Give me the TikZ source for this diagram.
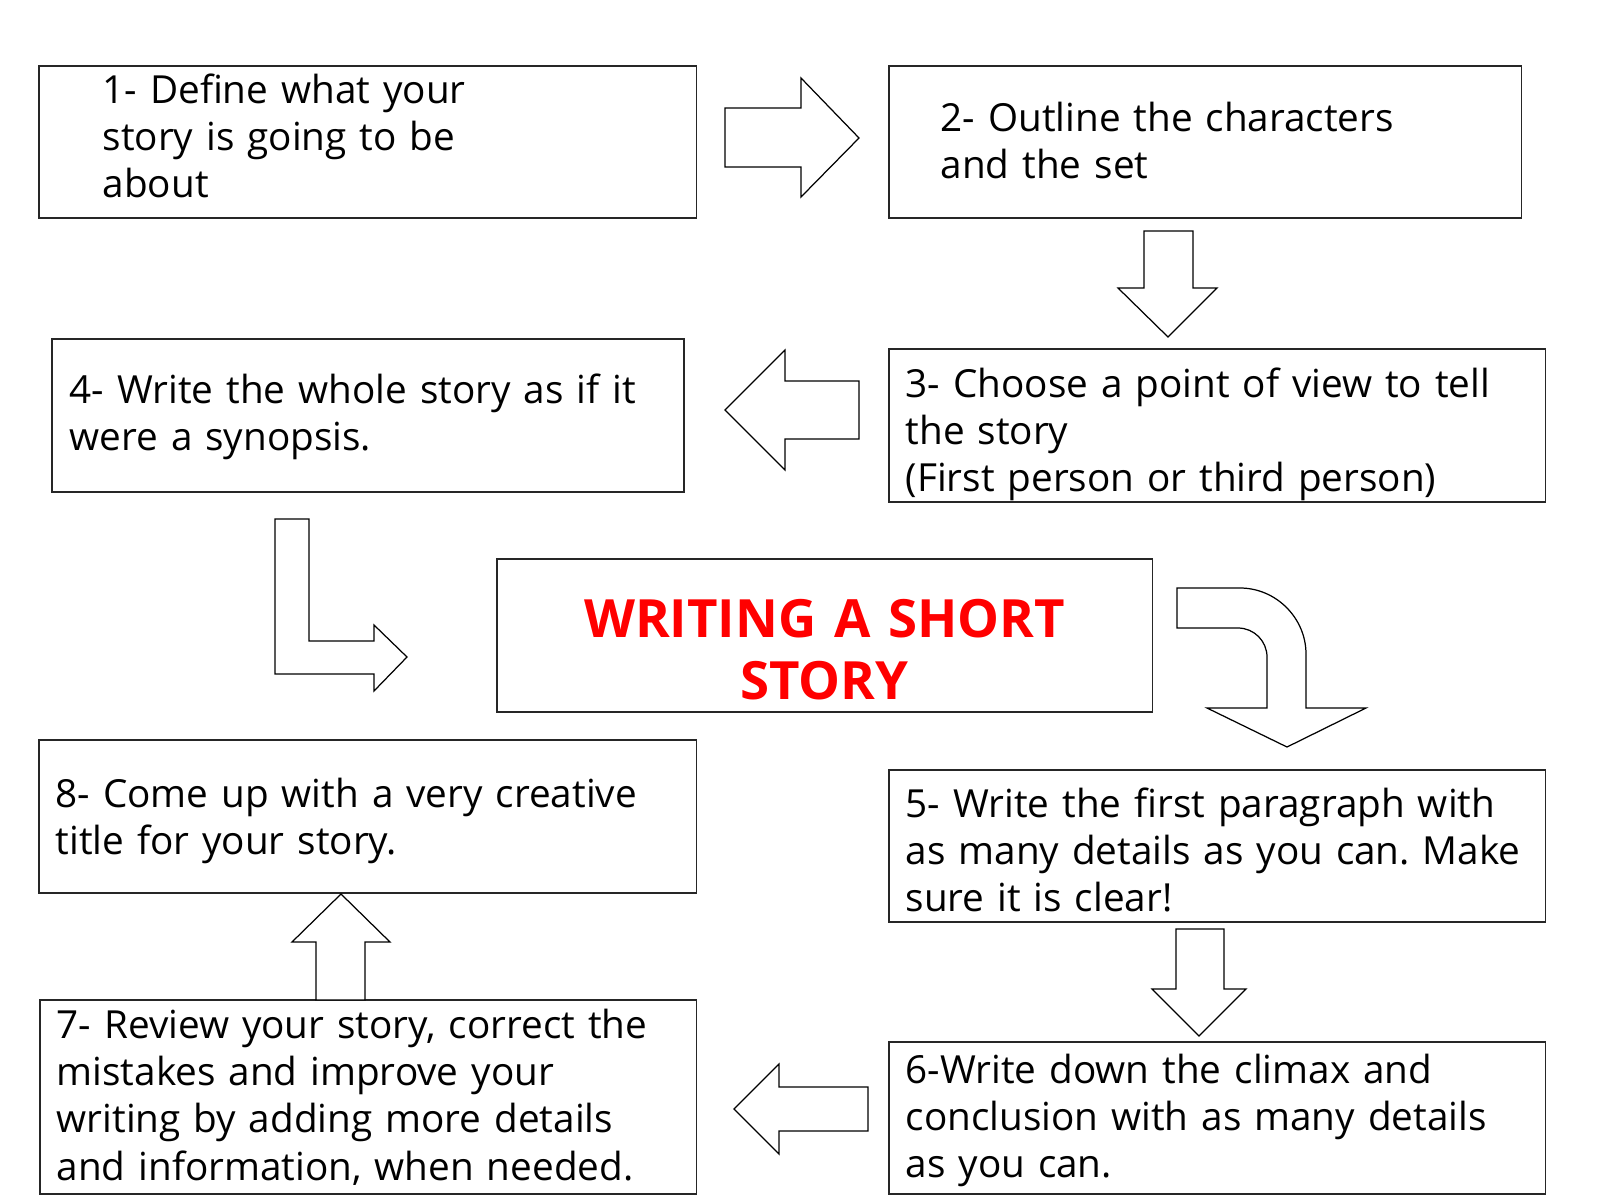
\documentclass[tikz,border=0pt]{standalone}
\usepackage{fontspec}
\setmainfont{Open Sans}
\frenchspacing

\tikzset{
  box/.style={draw=black!85, line width=0.5pt, inner sep=0pt, outer sep=0pt, anchor=north west},
  txt/.style={anchor=base west, inner sep=0pt, align=left, text width=7.5cm,
    font=\fontsize{11pt}{13.5pt}\selectfont},
  titletxt/.style={anchor=base, inner sep=0pt, align=center, text width=6.5cm, text=red,
    font=\fontsize{15pt}{17.9pt}\selectfont\bfseries},
  blockarrow/.style={draw=black, line width=0.35pt, fill=white, line join=miter},
}

\begin{document}
\begin{tikzpicture}[x=0.01cm,y=-0.01cm]
  \useasboundingbox (0,0) rectangle (1600,1200);
  % boxes
  \node[box, minimum width=6.57cm, minimum height=1.52cm] (b1) at (39,66) {};
  \node[box, minimum width=6.32cm, minimum height=1.52cm] (b2) at (889,66) {};
  \node[box, minimum width=6.56cm, minimum height=1.53cm] (b3) at (889,349) {};
  \node[box, minimum width=6.32cm, minimum height=1.53cm] (b4) at (52,339) {};
  \node[box, minimum width=6.55cm, minimum height=1.53cm] (title) at (497,559) {};
  \node[box, minimum width=6.56cm, minimum height=1.52cm] (b5) at (889,770) {};
  \node[box, minimum width=6.56cm, minimum height=1.52cm] (b6) at (889,1042) {};
  \node[box, minimum width=6.56cm, minimum height=1.94cm] (b7) at (40,1000) {};
  \node[box, minimum width=6.57cm, minimum height=1.53cm] (b8) at (39,740) {};

  % texts
  \node[txt] (t1) at (102,103) {1- Define what your\\story is going to be\\about};
  \node[txt] (t2) at (940,131) {2- Outline the characters\\and the set};
  \node[txt] (t3) at (905,397) {3- Choose a point of view to tell\\the story\\(First person or third person)};
  \node[txt] (t4) at (69,403) {4- Write the whole story as if it\\were a synopsis.};
  \node[titletxt] (ttitle) at (824.5,637) {WRITING A SHORT\\STORY};
  \node[txt] (t5) at (905,817) {5- Write the first paragraph with\\as many details as you can. Make\\sure it is clear!};
  \node[txt] (t6) at (905,1083) {6-Write down the climax and\\conclusion with as many details\\as you can.};
  \node[txt] (t7) at (56,1038) {7- Review your story, correct the\\mistakes and improve your\\writing by adding more details\\and information, when needed.};
  \node[txt] (t8) at (55,807) {8- Come up with a very creative\\title for your story.};

  % arrows
  \draw[blockarrow] (725,108) -- (801,108) -- (801,78) -- (859,138) -- (801,197) -- (801,167) -- (725,167) -- cycle;
  \draw[blockarrow] (1144,231) -- (1193,231) -- (1193,288) -- (1217,288) -- (1168,337) -- (1118,288) -- (1144,288) -- cycle;
  \draw[blockarrow] (859,381) -- (785,381) -- (785,350) -- (725,410) -- (785,470) -- (785,439) -- (859,439) -- cycle;
  \draw[blockarrow] (275,519) -- (309,519) -- (309,641) -- (374,641) -- (374,625) -- (407,657) -- (374,691) -- (374,674) -- (275,674) -- cycle;
  \draw[blockarrow] (1177,588) -- (1240,588) .. controls (1276,588) and (1306,618) .. (1306,654)
    -- (1306,708) -- (1366,708) -- (1287,747) -- (1207,708) -- (1267,708) -- (1267,657)
    .. controls (1267,641) and (1254,628) .. (1238,628) -- (1177,628) -- cycle;
  \draw[blockarrow] (1176,929) -- (1224,929) -- (1224,989) -- (1246,989) -- (1199,1036) -- (1152,989) -- (1176,989) -- cycle;
  \draw[blockarrow] (868,1087) -- (779,1087) -- (779,1064) -- (734,1109) -- (779,1154) -- (779,1131) -- (868,1131) -- cycle;
  \draw[blockarrow] (316,1000) -- (316,942) -- (292,942) -- (341,894) -- (390,942) -- (365,942) -- (365,1000) -- cycle;
\end{tikzpicture}
\end{document}
